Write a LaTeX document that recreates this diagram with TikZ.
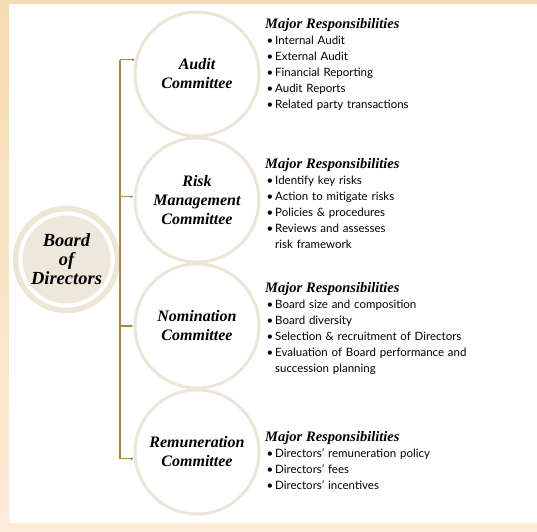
\documentclass[tikz,border=0pt]{standalone}
\usepackage{fontspec}
\setmainfont{Liberation Serif}
\setsansfont{Lato}
\usetikzlibrary{positioning,arrows.meta}
\definecolor{frametop}{HTML}{F6DCB3}
\definecolor{framebot}{HTML}{FCEBD7}
\definecolor{ring}{HTML}{EDE6D7}
\definecolor{boardfill}{HTML}{EEE8DC}
\definecolor{gold}{HTML}{A8894A}
\newcommand{\duty}[1]{\par\hangindent=10pt\hangafter=1\noindent\makebox[10pt][l]{\hspace*{1.5pt}\textbullet}#1\par}
\newcommand{\dutyhead}{{\rmfamily\bfseries\itshape\fontsize{14.5}{16}\selectfont Major Responsibilities}}
\begin{document}
\begin{tikzpicture}[x=1pt, y=1pt,
   committee/.style={circle, draw=ring, line width=3pt, minimum size=124pt, inner sep=0pt,
      align=center, font=\bfseries\itshape\fontsize{16}{19}\selectfont},
   board/.style={circle, fill=boardfill, minimum size=88pt, inner sep=0pt,
      align=center, font=\bfseries\itshape\fontsize{18.5}{19}\selectfont},
   resp/.style={anchor=north west, inner sep=0pt, text width=270pt,
      font=\sffamily\fontsize{11.5}{16}\selectfont},
   link/.style={draw=gold, line width=1.2pt},
   tip/.style={link, -{Latex[length=3pt,width=3pt]}},
   node distance=126pt]
   % frame
   \shade[top color=frametop, bottom color=framebot] (0,0) rectangle (537,-531);
   \fill[white] (9,-4) rectangle (537,-523);
   \useasboundingbox (0,0) rectangle (537,-531);
   % committees
   \node[committee] (A) at (197,-74) {Audit\\Committee};
   \node[committee] (R) [below of=A] {Risk\\Management\\Committee};
   \node[committee] (N) [below of=R] {Nomination\\Committee};
   \node[committee] (M) [below of=N] {Remuneration\\Committee};
   % board
   \node[board] (B) at (66.5,-259.5) {Board\\of\\Directors};
   \draw[ring, line width=5.5pt] (B) circle[radius=51];
   % spine
   \coordinate (S) at (120,0);
   \draw[link] (A.167 -| S) -- (M.186 -| S);
   \draw[tip] (A.167 -| S) -- (A.167);
   \draw[tip] (R.177 -| S) -- (R.177);
   \draw[tip] (N.180 -| S) -- (N.180);
   \draw[tip] (M.186 -| S) -- (M.186);
   % responsibilities
   \node[resp] (a) at (265,-18) {\raggedright\dutyhead
      \duty{Internal Audit}
      \duty{External Audit}
      \duty{Financial Reporting}
      \duty{Audit Reports}
      \duty{Related party transactions}};
   \node[resp] (r) at (265,-158) {\raggedright\dutyhead
      \duty{Identify key risks}
      \duty{Action to mitigate risks}
      \duty{Policies \& procedures}
      \duty{Reviews and assesses\newline risk framework}};
   \node[resp] (n) at (265,-282) {\raggedright\dutyhead
      \duty{Board size and composition}
      \duty{Board diversity}
      \duty{Selection \& recruitment of Directors}
      \duty{Evaluation of Board performance and\newline succession planning}};
   \node[resp] (m) at (265,-431) {\raggedright\dutyhead
      \duty{Directors’ remuneration policy}
      \duty{Directors’ fees}
      \duty{Directors’ incentives}};
\end{tikzpicture}
\end{document}
